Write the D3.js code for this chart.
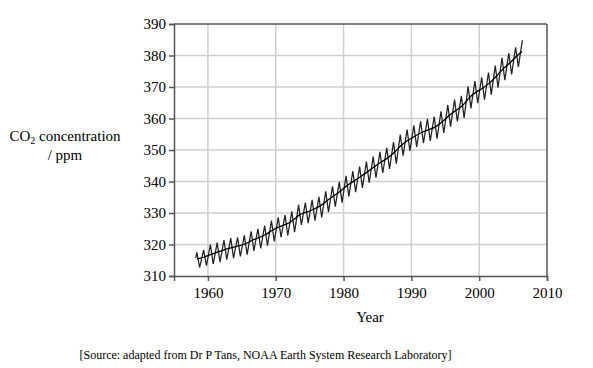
<!DOCTYPE html>
<html><head><meta charset="utf-8">
<script src="https://cdn.jsdelivr.net/npm/d3@7"></script>
<style>body{margin:0;background:#fff}svg{display:block}</style>
</head><body>
<svg id="c" width="593" height="368"></svg>
<script>
const xTicks = [1960, 1970, 1980, 1990, 2000, 2010];
const yTicks = [310, 320, 330, 340, 350, 360, 370, 380, 390];

// Seasonal zigzag: decimal year and CO2 ppm (alternating peaks and troughs)
const zigYears = [1958.2,
 1958.37,1958.78,1959.37,1959.78,1960.37,1960.78,1961.37,1961.78,1962.37,1962.78,
 1963.37,1963.78,1964.37,1964.78,1965.37,1965.78,1966.37,1966.78,1967.37,1967.78,
 1968.37,1968.78,1969.37,1969.78,1970.37,1970.78,1971.37,1971.78,1972.37,1972.78,
 1973.37,1973.78,1974.37,1974.78,1975.37,1975.78,1976.37,1976.78,1977.37,1977.78,
 1978.37,1978.78,1979.37,1979.78,1980.37,1980.78,1981.37,1981.78,1982.37,1982.78,
 1983.37,1983.78,1984.37,1984.78,1985.37,1985.78,1986.37,1986.78,1987.37,1987.78,
 1988.37,1988.78,1989.37,1989.78,1990.37,1990.78,1991.37,1991.78,1992.37,1992.78,
 1993.37,1993.78,1994.37,1994.78,1995.37,1995.78,1996.37,1996.78,1997.37,1997.78,
 1998.37,1998.78,1999.37,1999.78,2000.37,2000.78,2001.37,2001.78,2002.37,2002.78,
 2003.37,2003.78,2004.37,2004.78,2005.37,2005.78,2006.37];
const zigValues = [315.7,
 317.5,312.7,318.3,313.3,320.0,313.8,320.6,314.4,321.4,315.2,
 322.0,315.7,322.3,316.2,322.9,316.8,324.2,318.0,325.0,318.8,
 326.0,319.6,327.6,321.0,328.6,322.3,329.3,322.9,330.5,323.9,
 332.6,326.2,333.3,326.8,334.2,327.6,335.1,328.6,336.9,330.3,
 338.5,332.0,339.9,333.3,341.8,335.3,343.3,336.6,344.7,338.0,
 346.3,339.6,347.9,341.2,349.4,342.7,350.7,344.0,352.5,345.7,
 354.9,348.2,356.5,349.7,357.8,351.0,359.1,352.2,359.9,352.9,
 360.6,353.6,362.3,355.4,364.3,357.4,366.0,359.1,367.2,360.2,
 370.2,363.2,371.9,364.9,373.1,366.0,374.6,367.6,376.8,369.8,
 379.3,372.2,380.8,374.0,382.6,376.4,384.9];

// Trend line (annual means)
const trendYears = [1958.4,1959.5,1960.5,1961.5,1962.5,1963.5,1964.5,1965.5,1966.5,1967.5,1968.5,
 1969.5,1970.5,1971.5,1972.5,1973.5,1974.5,1975.5,1976.5,1977.5,1978.5,1979.5,1980.5,1981.5,
 1982.5,1983.5,1984.5,1985.5,1986.5,1987.5,1988.5,1989.5,1990.5,1991.5,1992.5,1993.5,1994.5,
 1995.5,1996.5,1997.5,1998.5,1999.5,2000.5,2001.5,2002.5,2003.5,2004.5,2005.5,2006.3];
const trendValues = [315.4,315.97,316.91,317.64,318.45,318.99,319.62,320.04,321.38,322.16,323.04,
 324.62,325.68,326.32,327.45,329.68,330.18,331.11,332.04,333.83,335.40,336.84,338.75,340.11,
 341.45,343.05,344.65,346.12,347.42,349.19,351.57,353.12,354.39,355.61,356.45,357.10,358.83,
 360.82,362.61,363.73,366.70,368.38,369.55,371.14,373.28,375.80,377.52,379.80,381.3];

const FONT = "'Liberation Serif', 'Times New Roman', Times, serif";
const svg = d3.select("#c");
const L = 174, R = 547, T = 24, B = 276;
const x = d3.scaleLinear().domain([1955, 2010]).range([L, R]);
const y = d3.scaleLinear().domain([310, 390]).range([B, T]);

// grid
svg.append("g").selectAll("line").data(yTicks.slice(1, -1)).join("line")
  .attr("x1", L).attr("x2", R).attr("y1", d => y(d)).attr("y2", d => y(d))
  .attr("stroke", "#cfcfcf").attr("stroke-width", 1.5);
svg.append("g").selectAll("line").data(xTicks.slice(0, -1)).join("line")
  .attr("y1", T).attr("y2", B).attr("x1", d => x(d)).attr("x2", d => x(d))
  .attr("stroke", "#cfcfcf").attr("stroke-width", 1.5);

// frame top/right
svg.append("line").attr("x1", L).attr("x2", R).attr("y1", T).attr("y2", T).attr("stroke", "#555").attr("stroke-width", 1.5);
svg.append("line").attr("x1", R).attr("x2", R).attr("y1", T).attr("y2", B).attr("stroke", "#555").attr("stroke-width", 1.5);

// axes
const xAxis = svg.append("g").attr("transform", `translate(0,${B})`)
  .call(d3.axisBottom(x).tickValues(xTicks).tickFormat(d3.format("d")).tickSize(5).tickPadding(6));
const yAxis = svg.append("g").attr("transform", `translate(${L},0)`)
  .call(d3.axisLeft(y).tickValues(yTicks).tickSize(5).tickPadding(3));
[xAxis, yAxis].forEach(g => {
  g.attr("font-family", FONT).attr("font-size", 15);
  g.select(".domain").attr("stroke", "#555").attr("stroke-width", 1.5);
  g.selectAll(".tick line").attr("stroke", "#555").attr("stroke-width", 1.5);
  g.selectAll("text").style("font-family", FONT).style("font-size", "15px").attr("fill", "#000");
});

// lines
const zig = zigYears.map((d, i) => [d, zigValues[i]]);
svg.append("path").datum(zig)
  .attr("d", d3.line().x(d => x(d[0])).y(d => y(d[1])))
  .attr("fill", "none").attr("stroke", "#222").attr("stroke-width", 1.25).attr("stroke-linejoin", "miter");
const tr = trendYears.map((d, i) => [d, trendValues[i]]);
svg.append("path").datum(tr)
  .attr("d", d3.line().curve(d3.curveBasis).x(d => x(d[0])).y(d => y(d[1])))
  .attr("fill", "none").attr("stroke", "#000").attr("stroke-width", 1.3);

// labels
const txt = (sx, sy, size) => svg.append("text").attr("x", sx).attr("y", sy)
  .attr("text-anchor", "middle").style("font-family", FONT).style("font-size", size + "px").attr("fill", "#000");
const lab = txt(65, 141, 15);
lab.append("tspan").text("CO");
lab.append("tspan").style("font-size", "10px").attr("dy", 3).text("2");
lab.append("tspan").attr("dy", -3).text(" concentration");
txt(65, 160, 15).text("/ ppm");
txt(370, 322, 15).text("Year");
txt(265.5, 359, 12).text("[Source: adapted from Dr P Tans, NOAA Earth System Research Laboratory]");
</script>
</body></html>
